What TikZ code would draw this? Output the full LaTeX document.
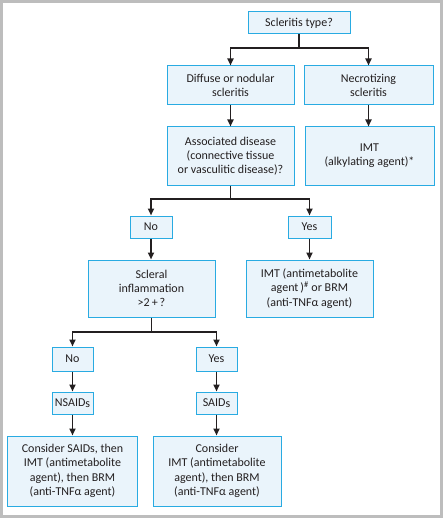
\documentclass[tikz,border=0pt]{standalone}
\usepackage{fontspec}
\setmainfont{Carlito}
\usetikzlibrary{arrows.meta}
\definecolor{boxline}{HTML}{29ABE2}
\definecolor{boxfill}{HTML}{EAF4FB}
\definecolor{frame}{HTML}{BDBDBD}
\definecolor{ink}{HTML}{231F20}
\tikzset{
  fbox/.style={draw=boxline, fill=boxfill, line width=1bp, inner sep=0pt, align=center,
    font=\fontsize{12bp}{14.3bp}\selectfont, text=ink},
  arr/.style={draw=ink, line width=1.8bp, -{Triangle[length=7bp,width=6bp]}},
  ln/.style={draw=ink, line width=1.8bp},
}
\begin{document}
\begin{tikzpicture}[x=1bp,y=-1bp]
\useasboundingbox (0,0) rectangle (443,518);
\draw[frame, line width=3bp] (1.5,1.5) rectangle (441.5,516.5);

\node[fbox, minimum width=102bp, minimum height=22bp] (top) at (299,23) {Scleritis type?};
\node[fbox, minimum width=127bp, minimum height=39bp] (diff) at (230.5,85.5) {Diffuse or nodular\\scleritis};
\node[fbox, minimum width=129bp, minimum height=39bp] (necro) at (368.5,85.5) {Necrotizing\\scleritis};
\node[fbox, minimum width=127bp, minimum height=58bp] (assoc) at (230.5,156) {Associated disease\\(connective tissue\\or vasculitic disease)?};
\node[fbox, minimum width=129bp, minimum height=58bp] (imta) at (369.5,156) {IMT\\(alkylating agent)*};
\node[fbox, minimum width=42bp, minimum height=22bp] (noa) at (151,227) {No};
\node[fbox, minimum width=43bp, minimum height=22bp] (yesa) at (309.5,227) {Yes};
\node[fbox, minimum width=127bp, minimum height=57bp] (scl) at (151.5,288.5) {Scleral\\inflammation\\>2\,+\,?};
\node[fbox, minimum width=127bp, minimum height=57bp] (imtb) at (309.5,288.5) {IMT (antimetabolite\\agent\,)\textsuperscript{\#} or BRM\\(anti-TNFα agent)};
\node[fbox, minimum width=41bp, minimum height=24bp] (nob) at (72.5,359) {No};
\node[fbox, minimum width=41bp, minimum height=24bp] (yesb) at (216.5,359) {Yes};
\node[fbox, minimum width=41bp, minimum height=22bp] (nsaid) at (72.5,403) {NSAID\raisebox{-0.2ex}{s}};
\node[fbox, minimum width=41bp, minimum height=22bp] (said) at (216.5,403) {SAID\raisebox{-0.2ex}{s}};
\node[fbox, minimum width=129bp, minimum height=70bp] (consa) at (72.5,471) {Consider SAIDs, then\\IMT (antimetabolite\\agent), then BRM\\(anti-TNFα agent)};
\node[fbox, minimum width=128bp, minimum height=70bp] (consb) at (217,471) {Consider\\IMT (antimetabolite\\agent), then BRM\\(anti-TNFα agent)};

\coordinate (j1) at (299,48);
\coordinate (j2) at (230.5,199);
\coordinate (j3) at (151.5,332);

\draw[ln] (top.south) -- (j1);
\draw[arr] (j1) -| (diff.north);
\draw[arr] (j1) -| (necro.north);
\draw[arr] (diff.south) -- (assoc.north);
\draw[arr] (necro.south) -- (necro.south |- imta.north);
\draw[ln] (assoc.south) -- (j2);
\draw[arr] (j2) -| (noa.north);
\draw[arr] (j2) -| (yesa.north);
\draw[arr] (noa.south) -- (noa.south |- scl.north);
\draw[arr] (yesa.south) -- (imtb.north);
\draw[ln] (scl.south) -- (j3);
\draw[arr] (j3) -| (nob.north);
\draw[arr] (j3) -| (yesb.north);
\draw[arr] (nob.south) -- (nsaid.north);
\draw[arr] (yesb.south) -- (said.north);
\draw[arr] (nsaid.south) -- (consa.north);
\draw[arr] (said.south) -- (said.south |- consb.north);
\end{tikzpicture}
\end{document}
